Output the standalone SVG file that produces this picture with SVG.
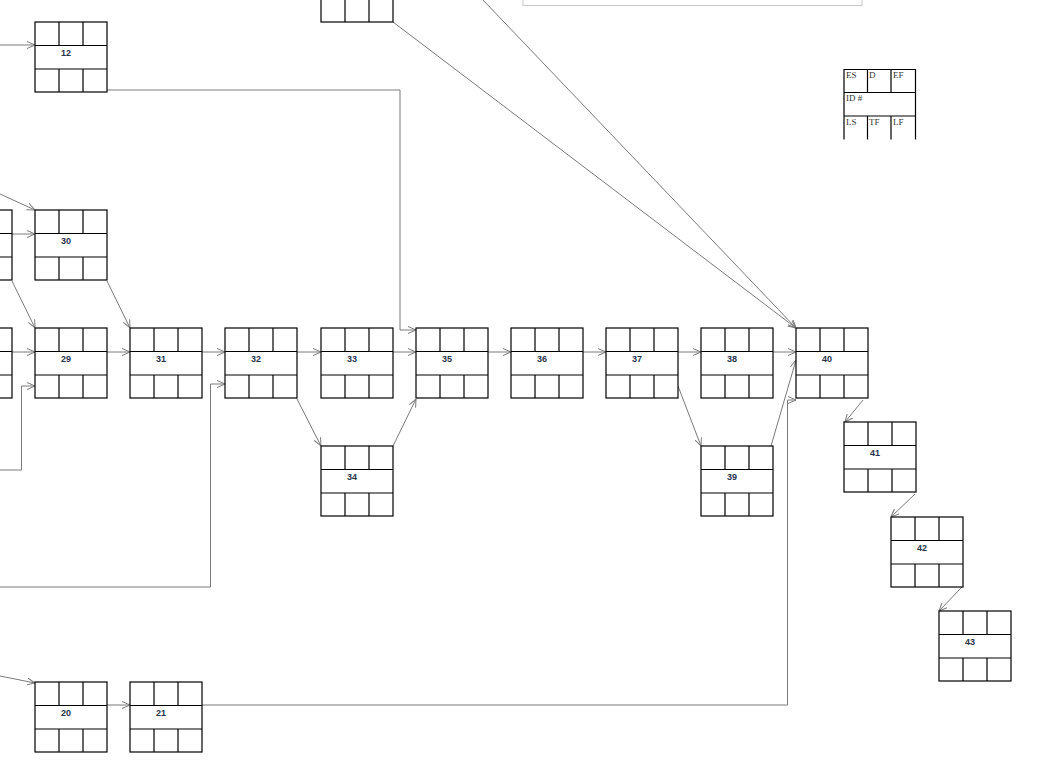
<svg xmlns="http://www.w3.org/2000/svg" width="1056" height="769" viewBox="0 0 1056 769">
<style>
.box{fill:#fff;stroke:#000;stroke-width:1.2}
.ln{stroke:#000;stroke-width:1.2;fill:none}
.c{stroke:#7a7a7a;stroke-width:1;fill:none;marker-end:url(#ah)}
.cn{stroke:#7a7a7a;stroke-width:1;fill:none}
.t{font-family:"Liberation Sans",Arial,sans-serif;font-size:9px;font-weight:bold;fill:#26324a;text-anchor:middle}
.lg{font-family:"Liberation Serif","Times New Roman",serif;font-size:9px;fill:#333}
</style>
<defs>
<marker id="ah" viewBox="0 0 8 8" refX="8" refY="4" markerWidth="8" markerHeight="8" markerUnits="userSpaceOnUse" orient="auto">
<path d="M0,0.5 L8,4 L0,7.5" fill="none" stroke="#7a7a7a" stroke-width="1"/>
</marker>
<g id="cell">
<rect class="box" x="0" y="0" width="72" height="70"/>
<path class="ln" d="M0,23.5H72M0,47H72M24,0V23.5M48,0V23.5M24,47V70M48,47V70"/>
</g>
</defs>
<rect x="523" y="-20" width="339" height="25.5" fill="none" stroke="#c8c8c8" stroke-width="1"/>
<g id="connectors">
<path class="c" d="M0,45H35"/>
<path class="c" d="M107,90H400V330H416"/>
<path class="c" d="M393,22L796,328"/>
<path class="c" d="M483,0L796,328"/>
<path class="c" d="M0,194L35,210"/>
<path class="c" d="M12,234H35"/>
<path class="c" d="M12,281L35,328"/>
<path class="c" d="M12,352H35"/>
<path class="c" d="M0,470H21.5V386H35"/>
<path class="c" d="M107,281L130,328"/>
<path class="c" d="M107,352H130"/>
<path class="c" d="M202,352H225"/>
<path class="c" d="M0,587H210.5V384H225"/>
<path class="c" d="M297,352H321"/>
<path class="c" d="M297,399L321,446"/>
<path class="c" d="M393,352H416"/>
<path class="c" d="M393,446L416,399"/>
<path class="c" d="M488,352H511"/>
<path class="c" d="M583,352H606"/>
<path class="c" d="M678,352H701"/>
<path class="c" d="M678,386L701,446"/>
<path class="c" d="M773,352H796"/>
<path class="c" d="M771,446L796,360"/>
<path class="c" d="M202,705H787.5V400H796"/>
<path class="c" d="M107,705H130"/>
<path class="c" d="M0,676L35,683"/>
<path class="c" d="M863,400L845,422"/>
<path class="c" d="M915,494L891,517"/>
<path class="c" d="M962,587L939,611"/>
</g>
<g id="n-top"><use href="#cell" x="321" y="-48"/></g>
<g id="n12"><use href="#cell" x="35" y="22"/><text class="t" x="66" y="56">12</text></g>
<g id="n28"><use href="#cell" x="-60" y="210"/></g>
<g id="n27"><use href="#cell" x="-60" y="328"/></g>
<g id="n30"><use href="#cell" x="35" y="210"/><text class="t" x="66" y="244">30</text></g>
<g id="n29"><use href="#cell" x="35" y="328"/><text class="t" x="66" y="362">29</text></g>
<g id="n31"><use href="#cell" x="130" y="328"/><text class="t" x="161" y="362">31</text></g>
<g id="n32"><use href="#cell" x="225" y="328"/><text class="t" x="256" y="362">32</text></g>
<g id="n33"><use href="#cell" x="321" y="328"/><text class="t" x="352" y="362">33</text></g>
<g id="n34"><use href="#cell" x="321" y="446"/><text class="t" x="352" y="480">34</text></g>
<g id="n35"><use href="#cell" x="416" y="328"/><text class="t" x="447" y="362">35</text></g>
<g id="n36"><use href="#cell" x="511" y="328"/><text class="t" x="542" y="362">36</text></g>
<g id="n37"><use href="#cell" x="606" y="328"/><text class="t" x="637" y="362">37</text></g>
<g id="n38"><use href="#cell" x="701" y="328"/><text class="t" x="732" y="362">38</text></g>
<g id="n39"><use href="#cell" x="701" y="446"/><text class="t" x="732" y="480">39</text></g>
<g id="n40"><use href="#cell" x="796" y="328"/><text class="t" x="827" y="362">40</text></g>
<g id="n41"><use href="#cell" x="844" y="422"/><text class="t" x="875" y="456">41</text></g>
<g id="n42"><use href="#cell" x="891" y="517"/><text class="t" x="922" y="551">42</text></g>
<g id="n43"><use href="#cell" x="939" y="611"/><text class="t" x="970" y="645">43</text></g>
<g id="n20"><use href="#cell" x="35" y="682"/><text class="t" x="66" y="716">20</text></g>
<g id="n21"><use href="#cell" x="130" y="682"/><text class="t" x="161" y="716">21</text></g>
<g id="legend">
<path class="ln" d="M844,69.5H915.5M844,69V139.5M867.5,69V92.5M891,69V92.5M915.5,69V139.5M844,92.5H915.5M844,116H915.5M867.5,116V139.5M891,116V139.5"/>
<text class="lg" x="846" y="78">ES</text>
<text class="lg" x="869" y="78">D</text>
<text class="lg" x="893" y="78">EF</text>
<text class="lg" x="846" y="101">ID #</text>
<text class="lg" x="846" y="125">LS</text>
<text class="lg" x="869" y="125">TF</text>
<text class="lg" x="893" y="125">LF</text>
</g>
</svg>
